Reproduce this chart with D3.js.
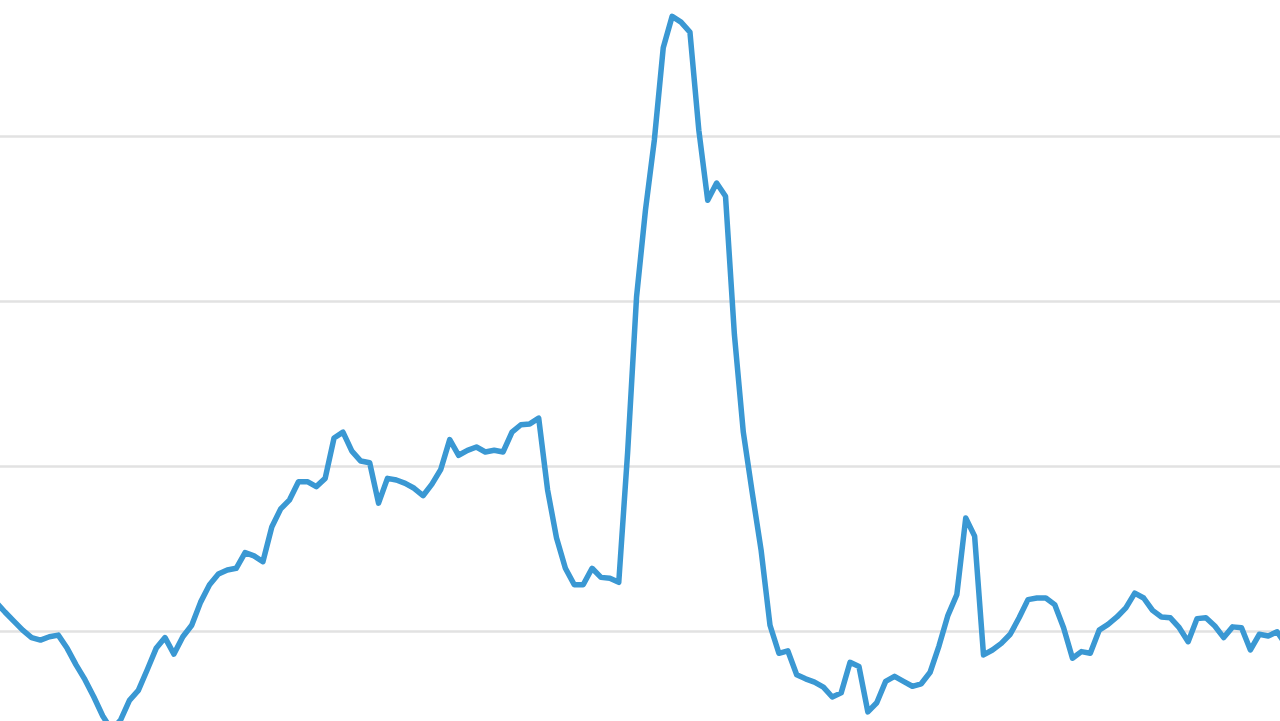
<!DOCTYPE html>
<html lang="en">
<head>
    <meta charset="UTF-8">
    <script src="https://d3js.org/d3.v7.min.js"></script>
    <style>
        html, body { margin: 0; padding: 0; background: #fff; overflow: hidden; }
    </style>
</head>
<body>
    <div id="chart"></div>
    <script>
        // series, one value per period
        const values = [
            2.35, 2.23, 2.12, 2.01, 1.92, 1.89, 1.93, 1.95, 1.79, 1.59,
            1.41, 1.20, 0.97, 0.80, 0.92, 1.16, 1.28, 1.53, 1.79, 1.92,
            1.72, 1.93, 2.07, 2.35, 2.56, 2.69, 2.74, 2.76, 2.95, 2.91,
            2.84, 3.26, 3.48, 3.59, 3.81, 3.81, 3.75, 3.85, 4.34, 4.41,
            4.18, 4.06, 4.04, 3.55, 3.85, 3.83, 3.79, 3.73, 3.64, 3.78,
            3.96, 4.32, 4.13, 4.19, 4.23, 4.17, 4.19, 4.17, 4.41, 4.50,
            4.51, 4.58, 3.71, 3.13, 2.76, 2.56, 2.56, 2.76, 2.65, 2.64,
            2.59, 4.17, 6.05, 7.10, 7.95, 9.07, 9.45, 9.38, 9.26, 8.07,
            7.22, 7.43, 7.27, 5.59, 4.41, 3.68, 2.98, 2.07, 1.73, 1.76,
            1.47, 1.42, 1.38, 1.32, 1.20, 1.25, 1.62, 1.57, 1.02, 1.13,
            1.39, 1.45, 1.39, 1.33, 1.36, 1.50, 1.82, 2.19, 2.44, 3.37,
            3.15, 1.71, 1.77, 1.85, 1.96, 2.16, 2.38, 2.40, 2.40, 2.32,
            2.04, 1.67, 1.75, 1.73, 2.01, 2.08, 2.17, 2.28, 2.46, 2.40,
            2.25, 2.17, 2.16, 2.04, 1.87, 2.15, 2.16, 2.06, 1.92, 2.05,
            2.04, 1.77, 1.96, 1.94, 1.99, 1.83
        ];
        const periods = values.map((v, i) => i);
        const gridValues = [2, 4, 6, 8];

        const width = 1280;
        const height = 721;

        const svg = d3.select("#chart")
            .append("svg")
            .attr("width", width)
            .attr("height", height);

        const x = d3.scaleLinear()
            .domain([0, periods.length - 1])
            .range([-4, 1286]);

        const y = d3.scaleLinear()
            .domain([2, 8])
            .range([631, 136]);

        // horizontal gridlines, no labels visible
        svg.append("g")
            .attr("class", "grid")
            .call(d3.axisLeft(y).tickValues(gridValues).tickSize(-width).tickFormat(""))
            .call(g => g.select(".domain").remove())
            .call(g => g.selectAll(".tick line")
                .attr("stroke", "#e2e2e2")
                .attr("stroke-width", 2.5));

        const line = d3.line()
            .x((d, i) => x(periods[i]))
            .y(d => y(d));

        svg.append("path")
            .datum(values)
            .attr("fill", "none")
            .attr("stroke", "#3a98d3")
            .attr("stroke-width", 5.5)
            .attr("stroke-linejoin", "round")
            .attr("stroke-linecap", "round")
            .attr("d", line);
    </script>
</body>
</html>
